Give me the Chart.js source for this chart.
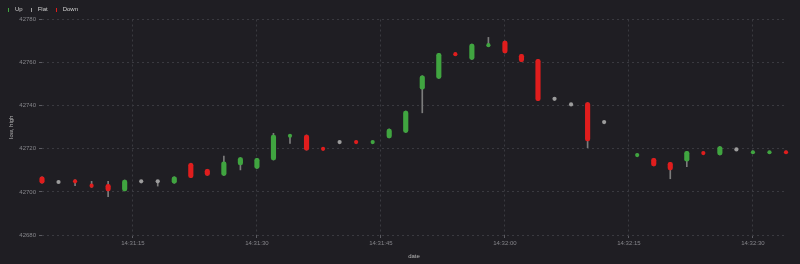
<!DOCTYPE html>
<html>
<head>
<meta charset="utf-8">
<script src="https://cdn.jsdelivr.net/npm/chart.js@4.4.1/dist/chart.umd.min.js"></script>
<style>
  html, body { margin: 0; padding: 0; background: #1f1e23; }
  #wrap { width: 800px; height: 264px; position: relative; }
</style>
</head>
<body>
<div id="wrap"><canvas id="chart"></canvas></div>
<script>
'use strict';

// candle times (2s bars, 14:32:14 has no bar)
const times = [
    '14:31:04', '14:31:06', '14:31:08', '14:31:10', '14:31:12', '14:31:14', '14:31:16', '14:31:18',
    '14:31:20', '14:31:22', '14:31:24', '14:31:26', '14:31:28', '14:31:30', '14:31:32', '14:31:34',
    '14:31:36', '14:31:38', '14:31:40', '14:31:42', '14:31:44', '14:31:46', '14:31:48', '14:31:50',
    '14:31:52', '14:31:54', '14:31:56', '14:31:58', '14:32:00', '14:32:02', '14:32:04', '14:32:06',
    '14:32:08', '14:32:10', '14:32:12', '14:32:16', '14:32:18', '14:32:20', '14:32:22', '14:32:24',
    '14:32:26', '14:32:28', '14:32:30', '14:32:32', '14:32:34'
];

const opens = [
    42707.0, 42704.6, 42705.6, 42703.7, 42703.5, 42700.5, 42704.9, 42704.9,
    42704.0, 42713.3, 42710.5, 42707.7, 42712.5, 42710.9, 42714.8, 42725.5,
    42726.4, 42720.5, 42723.1, 42723.6, 42722.6, 42725.1, 42727.6, 42747.7,
    42752.7, 42764.4, 42761.5, 42767.6, 42770.0, 42763.8, 42761.5, 42743.2,
    42740.6, 42741.4, 42732.4, 42716.6, 42715.6, 42713.7, 42714.3, 42718.5,
    42717.2, 42719.7, 42717.9, 42717.9, 42718.9
];

const highs = [
    42707.0, 42704.6, 42705.6, 42704.9, 42704.9, 42705.5, 42704.9, 42704.9,
    42707.0, 42713.3, 42710.5, 42716.6, 42715.9, 42715.6, 42727.2, 42726.5,
    42726.4, 42720.5, 42723.1, 42723.6, 42723.6, 42729.2, 42737.5, 42753.9,
    42764.3, 42764.4, 42768.6, 42771.7, 42770.0, 42763.8, 42761.5, 42743.2,
    42740.6, 42741.4, 42732.4, 42717.6, 42715.6, 42713.7, 42718.8, 42718.5,
    42721.0, 42719.7, 42718.9, 42718.9, 42718.9
];

const lows = [
    42704.0, 42704.6, 42702.9, 42702.1, 42697.8, 42700.5, 42704.9, 42702.7,
    42704.0, 42706.6, 42707.7, 42707.7, 42710.2, 42710.9, 42714.8, 42722.5,
    42719.4, 42719.5, 42723.1, 42722.6, 42722.6, 42725.1, 42727.6, 42736.7,
    42752.7, 42763.4, 42761.5, 42767.6, 42764.5, 42760.4, 42742.3, 42743.2,
    42740.6, 42720.5, 42732.4, 42716.6, 42712.1, 42706.1, 42711.7, 42717.5,
    42717.2, 42719.7, 42717.9, 42717.9, 42717.9
];

const closes = [
    42704.0, 42704.6, 42704.2, 42702.1, 42700.4, 42705.5, 42704.9, 42704.9,
    42707.0, 42706.6, 42707.7, 42714.0, 42715.9, 42715.6, 42726.4, 42726.5,
    42719.4, 42719.5, 42723.1, 42722.6, 42723.6, 42729.2, 42737.5, 42753.9,
    42764.3, 42763.4, 42768.6, 42768.6, 42764.5, 42760.4, 42742.3, 42743.2,
    42740.6, 42723.6, 42732.4, 42717.6, 42712.1, 42710.2, 42718.8, 42717.5,
    42721.0, 42719.7, 42718.9, 42718.9, 42717.9
];

const xTickLabels = ['14:31:15', '14:31:30', '14:31:45', '14:32:00', '14:32:15', '14:32:30'];
const yMin = 42680;
const yMax = 42780;
const yStep = 20;
const legendNames = ['Up', 'Flat', 'Down'];

const colors = {
    up: '#40a540',
    down: '#e01d1d',
    flat: '#9c9c9c',
    wick: '#7c7c7c',
    grid: '#3a3a40',
    tick: '#86868b',
    legend: '#cfcfcf'
};

function toSec(s) {
    const p = s.split(':').map(Number);
    return p[0] * 3600 + p[1] * 60 + p[2];
}

function candleColor(o, c) {
    if (c > o) return colors.up;
    if (c < o) return colors.down;
    return colors.flat;
}

// tiny vertical stroke used as legend marker
function legendMark(color) {
    const cv = document.createElement('canvas');
    cv.width = 1;
    cv.height = 4;
    const g = cv.getContext('2d');
    g.fillStyle = color;
    g.fillRect(0, 0, 1, 4);
    return cv;
}

const candles = times.map((t, i) => ({
    x: toSec(t), o: opens[i], h: highs[i], l: lows[i], c: closes[i]
}));

// bodies shorter than a few px are drawn as round dots
const isDot = k => Math.abs(k.c - k.o) < 1.9;
const bodyCandles = candles.filter(k => !isDot(k));
const dotCandles = candles.filter(isDot);
const xTickValues = xTickLabels.map(toSec);

Chart.defaults.font.family = "'Liberation Sans', Arial, sans-serif";
Chart.defaults.font.size = 6;
Chart.defaults.color = colors.tick;

new Chart(document.getElementById('chart'), {
    type: 'bar',
    data: {
        datasets: [{
            label: 'wick',
            data: candles.map(k => ({x: k.x, y: [k.l, k.h]})),
            backgroundColor: colors.wick,
            barThickness: 1,
            grouped: false,
            order: 3,
            clip: false
        }, {
            label: 'body',
            data: bodyCandles.map(k => ({x: k.x, y: [k.o, k.c]})),
            backgroundColor: bodyCandles.map(k => candleColor(k.o, k.c)),
            barThickness: 4.5,
            borderRadius: 2.25,
            borderSkipped: false,
            grouped: false,
            order: 2,
            clip: false
        }, {
            type: 'line',
            label: 'dot',
            data: dotCandles.map(k => ({x: k.x, y: (k.o + k.c) / 2})),
            showLine: false,
            pointRadius: 2.1,
            pointBorderWidth: 0,
            pointBackgroundColor: dotCandles.map(k => candleColor(k.o, k.c)),
            order: 1,
            clip: false
        }]
    },
    options: {
        responsive: true,
        maintainAspectRatio: false,
        animation: false,
        layout: {
            padding: {top: 1.5, right: 14, bottom: 0, left: 0}
        },
        scales: {
            x: {
                type: 'linear',
                min: candles[0].x,
                max: candles[candles.length - 1].x,
                offset: false,
                afterBuildTicks: scale => {
                    scale.ticks = xTickValues.map(v => ({value: v}));
                },
                afterFit: scale => {
                    scale.height = 29;
                },
                grid: {
                    offset: false,
                    color: colors.grid,
                    lineWidth: 1,
                    tickLength: 3,
                    tickColor: '#5c5c62'
                },
                border: {
                    display: false,
                    dash: [2, 3]
                },
                ticks: {
                    autoSkip: false,
                    maxRotation: 0,
                    padding: 2,
                    color: colors.tick,
                    callback: (value, index) => xTickLabels[index]
                },
                title: {
                    display: true,
                    text: 'date',
                    color: '#b5b5b5',
                    padding: {top: 2, bottom: 4}
                }
            },
            y: {
                min: yMin,
                max: yMax,
                afterFit: scale => {
                    scale.width = 42;
                },
                grid: {
                    color: colors.grid,
                    lineWidth: 1,
                    tickLength: 3,
                    tickColor: '#5c5c62'
                },
                border: {
                    display: false,
                    dash: [2, 3]
                },
                ticks: {
                    stepSize: yStep,
                    padding: 3,
                    color: colors.tick,
                    callback: value => String(value)
                },
                title: {
                    display: true,
                    text: 'low, high',
                    color: '#b5b5b5',
                    padding: {top: 8, bottom: 0}
                }
            }
        },
        plugins: {
            tooltip: {enabled: false},
            legend: {
                display: true,
                position: 'top',
                align: 'start',
                maxHeight: 18,
                labels: {
                    color: colors.legend,
                    usePointStyle: true,
                    pointStyleWidth: 7,
                    boxHeight: 4,
                    padding: 5,
                    generateLabels: () => legendNames.map((name, i) => {
                        const c = [colors.up, colors.flat, colors.down][i];
                        return {
                            text: name,
                            fillStyle: c,
                            strokeStyle: c,
                            fontColor: colors.legend,
                            lineWidth: 0,
                            pointStyle: legendMark(c),
                            rotation: 0,
                            hidden: false,
                            datasetIndex: 0
                        };
                    })
                }
            }
        }
    }
});
</script>
</body>
</html>
